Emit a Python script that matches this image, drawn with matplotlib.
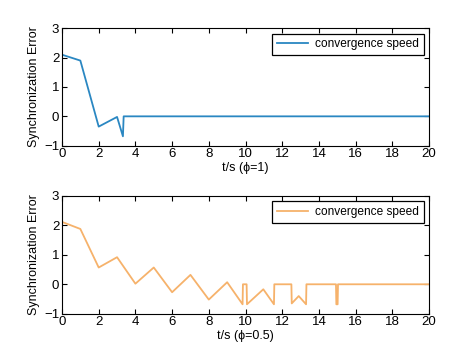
import matplotlib.pyplot as plt

plt.rcParams['font.family'] = ['Liberation Sans', 'DejaVu Sans']

# top panel (phi = 1)
t_top = [0, 1, 2, 3, 3.32, 3.36, 20]
err_top = [2.1, 1.9, -0.35, -0.02, -0.68, 0, 0]

# bottom panel (phi = 0.5)
t_bot = [0, 1, 2, 3, 4, 5, 6, 7, 8, 9, 9.84, 9.86, 10.06, 10.08, 10.97, 11.55,
         11.57, 12.5, 12.52, 12.9, 13.3, 13.32, 14.93, 14.95, 15.02, 15.04, 20]
err_bot = [2.12, 1.88, 0.57, 0.92, 0.02, 0.57, -0.27, 0.32, -0.52, 0.07, -0.68, 0, 0,
           -0.68, -0.17, -0.68, 0, 0, -0.65, -0.4, -0.68, 0, 0, -0.68, -0.68, 0, 0]

panels = [
    (t_top, err_top, '#2a87c2', 't/s (ϕ=1)', [0.1308, 0.5896, 0.7743, 0.3307]),
    (t_bot, err_bot, '#f6b26b', 't/s (ϕ=0.5)', [0.1308, 0.1163, 0.7743, 0.3316]),
]

fig = plt.figure(figsize=(4.74, 3.55), dpi=100)
for t, e, col, xlab, pos in panels:
    ax = fig.add_axes(pos)
    ax.plot(t, e, color=col, lw=1.3, label='convergence speed')
    ax.set_xlim(0, 20)
    ax.set_ylim(-1, 3)
    ax.set_xticks(range(0, 21, 2))
    ax.set_yticks([-1, 0, 1, 2, 3])
    ax.set_yticklabels(['\u22121', '0', '1', '2', '3'])
    ax.tick_params(direction='in', top=True, right=True, labelsize=9.5, length=3.5, pad=2)
    ax.set_xlabel(xlab, fontsize=9, labelpad=1)
    ax.set_ylabel('Synchronization Error', fontsize=9, labelpad=3)
    leg = ax.legend(loc='upper right', fontsize=8.6, fancybox=False, framealpha=1,
                    handlelength=2.6, handletextpad=0.6, borderaxespad=0.45, borderpad=0.4)
    leg.get_frame().set_edgecolor('black')
    leg.get_frame().set_linewidth(0.9)

fig.savefig('out.png', dpi=100)
